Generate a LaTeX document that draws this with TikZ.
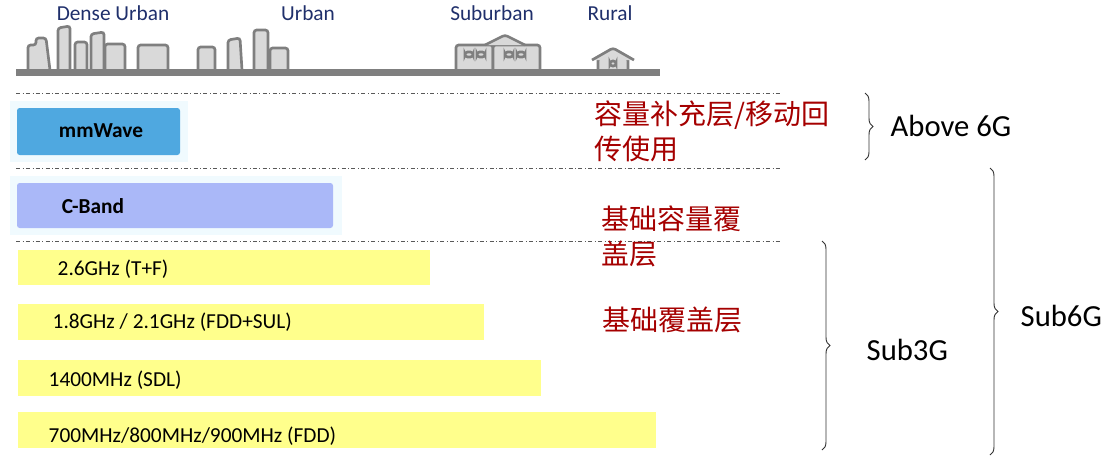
\documentclass[tikz,border=0pt]{standalone}
\usepackage{fontspec}
\setmainfont{Carlito}
\newfontfamily\cjk{Noto Sans CJK SC}
\usetikzlibrary{decorations.pathreplacing}
\definecolor{navy}{HTML}{1F2F6B}
\definecolor{dred}{HTML}{A50000}
\definecolor{bgray}{HTML}{7F7F7F}
\definecolor{yel}{HTML}{FFFF8C}
\begin{document}
\begin{tikzpicture}[x=0.75pt,y=-0.75pt,
 area/.style={font=\fontsize{16}{16}\selectfont,text=navy},
 bt/.style={font=\fontsize{16}{16}\selectfont,anchor=west},
 ybar/.style={fill=yel,draw=none},
 sep/.style={dash dot,gray!70!black,line width=0.6pt},
 cn/.style={font=\cjk\fontsize{21}{26}\selectfont,text=dred,align=left,anchor=north west},
 br/.style={decorate,decoration={brace,amplitude=6pt},line width=0.7pt,draw=black!80},
 lab/.style={font=\fontsize{23}{23}\selectfont,anchor=west},
 bld/.style={fill=gray!30,draw=bgray,line width=2pt,rounded corners=2pt}]
\useasboundingbox (0,0) rectangle (1111,469);
% area labels
\node[area] (du) at (113,13) {Dense Urban};
\node[area] (ur) at (308,13) {Urban};
\node[area] (su) at (492,13) {Suburban};
\node[area] (ru) at (610,13) {Rural};
% buildings
\draw[bld] (28,70) -- (28,45) -- (36,45) -- (36,38) -- (46,38) -- (50,70);
\draw[bld] (58,70) -- (58,28) -- (70,26) -- (70,70);
\draw[bld] (75,70) -- (75,42) -- (87,42) -- (87,70);
\draw[bld] (91,70) -- (91,34) -- (104,32) -- (104,70);
\draw[bld] (105,70) -- (105,44) -- (125,44) -- (125,70);
\draw[bld] (138,70) -- (138,45) -- (168,45) -- (168,70);
\draw[bld] (198,70) -- (198,47) -- (215,47) -- (215,70);
\draw[bld] (228,70) -- (228,40) -- (240,38) -- (242,70);
\draw[bld] (254,70) -- (254,30) -- (268,30) -- (268,70);
\draw[bld] (270,70) -- (270,48) -- (288,48) -- (288,70);
\draw[bld] (456,70) -- (456,45) -- (493,45) -- (493,70);
\draw[bld] (493,70) -- (493,45) -- (540,45) -- (540,70);
\draw[bld] (485,45) -- (505,35) -- (525,45);
\draw[bld] (465,52) rectangle (473,57);
\draw[bld] (477,52) rectangle (485,57);
\draw[bld] (505,52) rectangle (513,57);
\draw[bld] (517,52) rectangle (525,57);
\draw[bld] (598,70) -- (598,58) -- (628,58) -- (628,70);
\draw[bld] (592,60) -- (613,48) -- (634,60);
\draw[bld] (610,61) rectangle (616,66);
\draw[fill=bgray,draw=none] (16,69) rectangle (660,76);
% separators
\coordinate (s1a) at (16,93); \coordinate (s1b) at (780,93);
\coordinate (s2a) at (16,168); \coordinate (s2b) at (780,168);
\coordinate (s3a) at (16,241); \coordinate (s3b) at (780,241);
\draw[sep] (s1a) -- (s1b);
\draw[sep] (s2a) -- (s2b);
\draw[sep] (s3a) -- (s3b);
% bars
\fill[cyan!6] (10,101) rectangle (188,162);
\fill[cyan!6] (10,176) rectangle (342,235);
\fill[rounded corners=2pt,fill={rgb,255:red,79;green,168;blue,224}] (17,108) rectangle (180,155);
\node[font=\bfseries\fontsize{16}{16}\selectfont] (mm) at (101,131) {mmWave};
\fill[rounded corners=2pt,fill={rgb,255:red,170;green,184;blue,248}] (17,183) rectangle (333,228);
\node[font=\bfseries\fontsize{16}{16}\selectfont] (cb) at (93,206) {C-Band};
\fill[ybar] (18,250) rectangle (430,285);
\fill[ybar] (18,304) rectangle (484,340);
\fill[ybar] (18,360) rectangle (541,396);
\fill[ybar] (18,412) rectangle (656,448);
\node[bt] (b1) at (53,269) {2.6GHz (T+F)};
\node[bt] (b2) at (48,322) {1.8GHz / 2.1GHz (FDD+SUL)};
\node[bt] (b3) at (44,380) {1400MHz (SDL)};
\node[bt] (b4) at (44,436) {700MHz/800MHz/900MHz (FDD)};
% chinese labels
\node[cn] (c1) at (590,96) {容量补充层/移动回\\传使用};
\node[cn] (c2) at (597,201) {基础容量覆\\盖层};
\node[cn] (c3) at (598,302) {基础覆盖层};
% braces
\draw[br] (865,93) -- (865,160);
\draw[br] (990,168) -- (990,455);
\draw[br] (822,241) -- (822,450);
\node[lab] (a6) at (886,126) {Above 6G};
\node[lab] (s6) at (1016,316) {Sub6G};
\node[lab] (s3) at (862,350) {Sub3G};
\end{tikzpicture}
\end{document}
